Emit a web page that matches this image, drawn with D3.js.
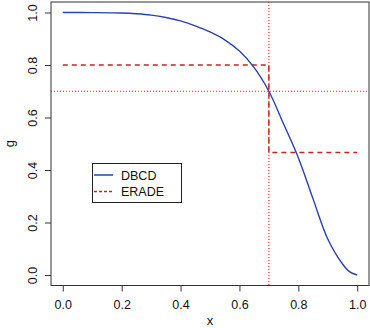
<!DOCTYPE html>
<html>
<head>
<meta charset="utf-8">
<script src="https://cdn.jsdelivr.net/npm/d3@7"></script>
<style>
  body { margin: 0; background: #fff; }
  svg { display: block; font-family: "Liberation Sans", Arial, sans-serif; }
</style>
</head>
<body>
<svg id="chart" width="370" height="328"></svg>
<script>
// DBCD curve
const dbcdX = [0, 0.1, 0.2, 0.25, 0.3, 0.35, 0.4, 0.45, 0.5, 0.55, 0.6, 0.65, 0.7, 0.75, 0.8, 0.85, 0.9, 0.95, 0.975, 1.0];
const dbcdG = [1.0, 0.9997, 0.998, 0.995, 0.990, 0.981, 0.968, 0.949, 0.926, 0.896, 0.853, 0.790, 0.70, 0.575, 0.447, 0.29, 0.137, 0.042, 0.012, 0.0];

// ERADE step function
const eradeX = [0, 0.7, 0.7, 1.0];
const eradeG = [0.8, 0.8, 0.467, 0.467];

// reference lines
const refX = 0.7;
const refG = 0.7;

const xTicks = [0, 0.2, 0.4, 0.6, 0.8, 1.0];
const yTicks = [0, 0.2, 0.4, 0.6, 0.8, 1.0];
const legendNames = ["DBCD", "ERADE"];

const svg = d3.select("#chart");

const box = { left: 51, right: 369, top: 2, bottom: 285.5 };

// R style 4% padding on each side
const x = d3.scaleLinear().domain([-0.04, 1.04]).range([box.left, box.right]);
const y = d3.scaleLinear().domain([-0.04, 1.04]).range([box.bottom, box.top]);

const blue = "#2b3fae";
const darkRed = "#c42424";
const red = "#ff1a1a";

// Axes
const xAxis = svg.append("g")
    .attr("transform", `translate(0,${box.bottom})`)
    .call(d3.axisBottom(x).tickValues(xTicks).tickFormat(d3.format(".1f")).tickSize(6).tickPadding(6));
const yAxis = svg.append("g")
    .attr("transform", `translate(${box.left},0)`)
    .call(d3.axisLeft(y).tickValues(yTicks).tickFormat(d3.format(".1f")).tickSize(6).tickPadding(5));

[xAxis, yAxis].forEach(a => {
    a.select(".domain").remove();
    a.selectAll("line").attr("stroke", "#333");
    a.selectAll("text").attr("font-size", 12.5).attr("fill", "#111")
        .attr("font-family", "Liberation Sans, Arial, sans-serif");
});
xAxis.selectAll("text").attr("dy", "0.9em");

// rotate y tick labels like R
yAxis.selectAll(".tick text")
    .attr("text-anchor", "middle")
    .attr("x", null)
    .attr("dy", null)
    .attr("transform", "translate(-14,0) rotate(-90)")
    .attr("y", 0);

// Axis titles
svg.append("text")
    .attr("x", (x(0) + x(1)) / 2)
    .attr("y", 325)
    .attr("text-anchor", "middle")
    .attr("font-size", 13)
    .attr("fill", "#111")
    .text("x");
svg.append("text")
    .attr("transform", `translate(14,${(y(0) + y(1)) / 2}) rotate(-90)`)
    .attr("text-anchor", "middle")
    .attr("font-size", 13)
    .attr("fill", "#111")
    .text("g");

// Reference dotted lines
svg.append("line")
    .attr("x1", x(refX)).attr("x2", x(refX))
    .attr("y1", box.top).attr("y2", box.bottom)
    .attr("stroke", red).attr("stroke-width", 1.1)
    .attr("stroke-dasharray", "1,2");
svg.append("line")
    .attr("x1", box.left).attr("x2", box.right)
    .attr("y1", y(refG)).attr("y2", y(refG))
    .attr("stroke", red).attr("stroke-width", 1.1)
    .attr("stroke-dasharray", "1,2");

// ERADE step
const eradeData = eradeX.map((v, i) => ({ x: v, g: eradeG[i] }));
svg.append("path")
    .datum(eradeData)
    .attr("fill", "none")
    .attr("stroke", darkRed)
    .attr("stroke-width", 1.5)
    .attr("stroke-dasharray", "5,4")
    .attr("d", d3.line().x(d => x(d.x)).y(d => y(d.g)));

// DBCD curve
const dbcdData = dbcdX.map((v, i) => ({ x: v, g: dbcdG[i] }));
svg.append("path")
    .datum(dbcdData)
    .attr("fill", "none")
    .attr("stroke", blue)
    .attr("stroke-width", 1.4)
    .attr("d", d3.line().x(d => x(d.x)).y(d => y(d.g)).curve(d3.curveCatmullRom.alpha(0.5)));

// Plot box
svg.append("rect")
    .attr("x", box.left).attr("y", box.top)
    .attr("width", box.right - box.left).attr("height", box.bottom - box.top)
    .attr("fill", "none").attr("stroke", "#333").attr("stroke-width", 1);

// Legend
const legend = svg.append("g");
legend.append("rect")
    .attr("x", 92.5).attr("y", 163.5).attr("width", 89).attr("height", 39)
    .attr("fill", "#fff").attr("stroke", "#222").attr("stroke-width", 1);
const legendStyles = [
    { color: blue, dash: null },
    { color: darkRed, dash: "3,2" }
];
legendNames.forEach((name, i) => {
    const ly = 175 + i * 16.5;
    legend.append("line")
        .attr("x1", 94).attr("x2", 113).attr("y1", ly).attr("y2", ly)
        .attr("stroke", legendStyles[i].color).attr("stroke-width", 1.5)
        .attr("stroke-dasharray", legendStyles[i].dash);
    legend.append("text")
        .attr("x", 121).attr("y", ly + 4.5)
        .attr("font-size", 12.5).attr("fill", "#111")
        .text(name);
});
</script>
</body>
</html>
